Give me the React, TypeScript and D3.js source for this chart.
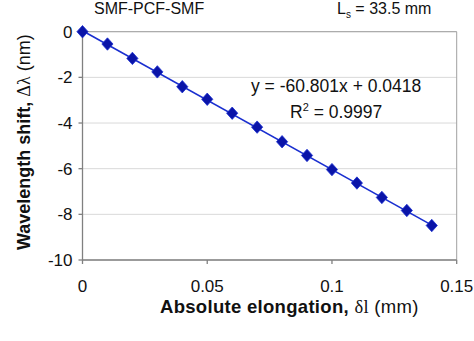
import React from "react";
import * as d3 from "d3";

const elongation = [0, 0.01, 0.02, 0.03, 0.04, 0.05, 0.06, 0.07, 0.08, 0.09, 0.1, 0.11, 0.12, 0.13, 0.14];
const shift = [0, -0.54, -1.17, -1.76, -2.41, -2.96, -3.57, -4.18, -4.82, -5.42, -6.04, -6.63, -7.26, -7.83, -8.49];
const slope = -60.801;
const intercept = 0.0418;
const xTicks = [0, 0.05, 0.1, 0.15];
const xTickLabels = ["0", "0.05", "0.1", "0.15"];
const yTicks = [0, -2, -4, -6, -8, -10];

const W = 474, H = 341;
const L = 82.5, R = 456.7, T = 31.7, B = 260;
const FONT = "'Liberation Sans', Arial, sans-serif";

export default function App() {
  const x = d3.scaleLinear().domain([0, 0.15]).range([L, R]);
  const y = d3.scaleLinear().domain([-10, 0]).range([B, T]);
  const x0 = d3.min(elongation)!, x1 = d3.max(elongation)!;
  const fit = d3.line<number>().x((d) => x(d)).y((d) => y(slope * d + intercept));
  const diamond = "M0,-6.2L5.6,0L0,6.2L-5.6,0Z";

  return (
    <svg width={W} height={H} style={{ position: "absolute", left: 0, top: 0, background: "#fff" }} fontFamily={FONT}>
      <rect x={0} y={0} width={W} height={H} fill="#fff" />
      {yTicks.map((t) => (
        <line key={"g" + t} x1={L} x2={R} y1={y(t)} y2={y(t)} stroke="#d9d9d9" strokeWidth={1} />
      ))}
      <line x1={R} x2={R} y1={T} y2={B} stroke="#a0a0a0" strokeWidth={1} />
      <line x1={L} x2={R} y1={T} y2={T} stroke="#a0a0a0" strokeWidth={1} />
      <line x1={L} x2={L} y1={T} y2={B} stroke="#808080" strokeWidth={1.3} />
      <line x1={L} x2={R} y1={B} y2={B} stroke="#808080" strokeWidth={1.3} />
      {yTicks.map((t) => (
        <g key={"y" + t}>
          <line x1={L - 4} x2={L} y1={y(t)} y2={y(t)} stroke="#808080" strokeWidth={1.3} />
          <text x={L - 10} y={y(t) + 6} textAnchor="end" fontSize={17} fill="#111">{t === 0 ? "0" : "-" + Math.abs(t)}</text>
        </g>
      ))}
      {xTicks.map((t, i) => (
        <g key={"x" + t}>
          <line x1={x(t)} x2={x(t)} y1={B} y2={B + 4} stroke="#808080" strokeWidth={1.3} />
          <text x={x(t)} y={292} textAnchor="middle" fontSize={17} fill="#111">{xTickLabels[i]}</text>
        </g>
      ))}
      <path d={fit([x0, x1]) || ""} stroke="#1a2fd0" strokeWidth={1.6} fill="none" />
      {elongation.map((e, i) => (
        <path key={i} d={diamond} transform={`translate(${x(e)},${y(shift[i])})`} fill="#0a14a8" stroke="#1a2fd0" strokeWidth={0.8} />
      ))}
      <text x={94} y={14} fontSize={16} fill="#111">SMF-PCF-SMF</text>
      <text x={337} y={14} fontSize={16} fill="#111">
        L<tspan fontSize={10} dy={4}>s</tspan><tspan dy={-4}> = 33.5 mm</tspan>
      </text>
      <text x={251} y={92} fontSize={17.5} fill="#111">y = -60.801x + 0.0418</text>
      <text x={290} y={118} fontSize={17.5} fill="#111">
        R<tspan fontSize={11} dy={-7}>2</tspan><tspan dy={7}> = 0.9997</tspan>
      </text>
      <text x={160} y={313} fontSize={18.5} fill="#111" letterSpacing={0.3}>
        <tspan fontWeight="bold">Absolute elongation, </tspan>
        <tspan fontFamily="'Liberation Serif', serif">δl</tspan>
        <tspan> (mm)</tspan>
      </text>
      <text transform="translate(30,250) rotate(-90)" fontSize={18} fill="#111">
        <tspan fontWeight="bold">Wavelength shift, </tspan>
        <tspan fontFamily="'Liberation Serif', serif">Δλ</tspan>
        <tspan> (nm)</tspan>
      </text>
    </svg>
  );
}
